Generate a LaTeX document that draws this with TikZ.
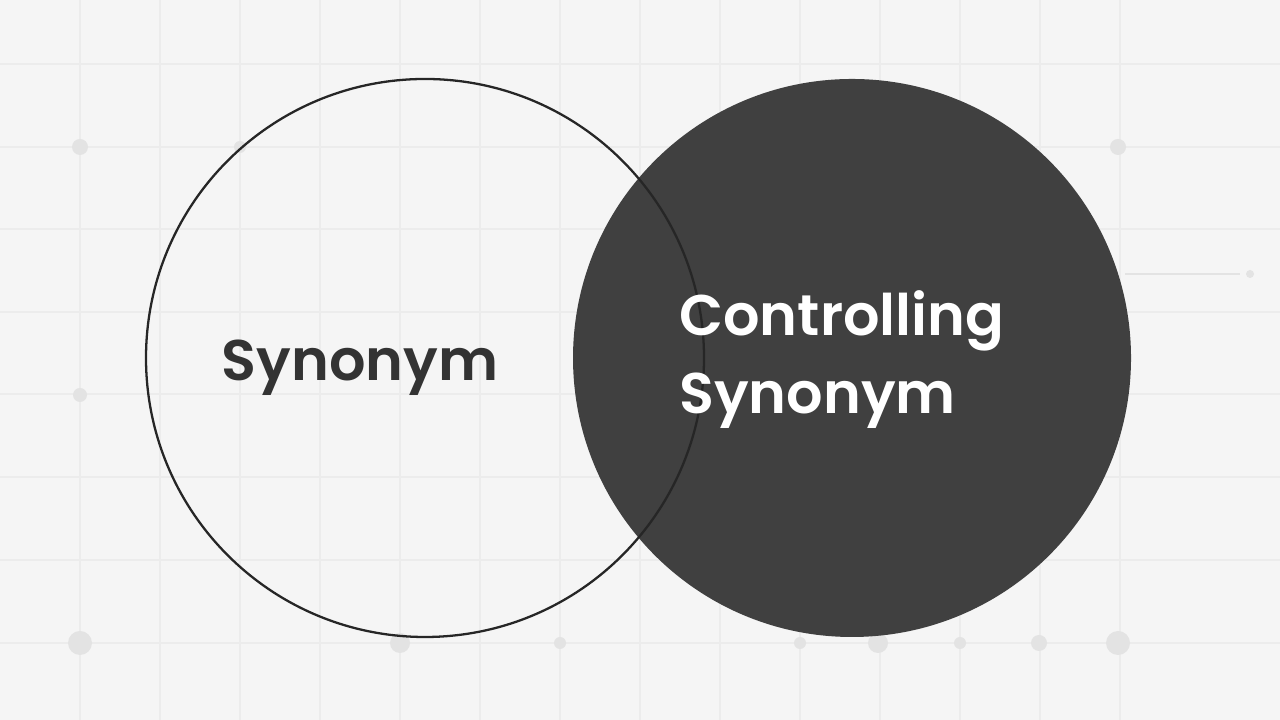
\documentclass[tikz,border=0pt]{standalone}
\usepackage{fontspec}
\setmainfont{Poppins}[BoldFont={Poppins SemiBold}]
\usepackage{xcolor}
\usepackage{tikz}

\definecolor{bgcol}{HTML}{F5F5F5}
\definecolor{gridcol}{HTML}{ECECEC}
\definecolor{dotcol}{HTML}{E3E3E3}
\definecolor{darkcol}{HTML}{404040}
\definecolor{inkcol}{HTML}{333333}

\tikzset{
  label/.style={font=\fontsize{16.3}{22.2}\selectfont\bfseries},
  dot/.style={fill=dotcol, draw=none}
}

\begin{document}
\begin{tikzpicture}[scale=1,every node/.style={transform shape}]
\fill[bgcol] (0,0) rectangle (12.8,7.2);
\useasboundingbox (0,0) rectangle (12.8,7.2);

    % faint grid in the back
    \foreach \x in {0.8,1.6,...,12.0}
        \draw[gridcol, line width=0.35pt] (\x,0) -- (\x,7.2);
    \foreach \y in {0.77,1.6,2.43,3.26,4.08,4.91,5.73,6.56}
        \draw[gridcol, line width=0.35pt] (0,\y) -- (12.8,\y);
    \draw[dotcol, line width=0.5pt] (11.25,4.46) -- (12.4,4.46);

    % grid dots
    \fill[dot] (0.80,5.73) circle (0.08);
    \fill[dot] (2.40,5.73) circle (0.06);
    \fill[dot] (11.18,5.73) circle (0.08);
    \fill[dot] (0.80,3.25) circle (0.07);
    \fill[dot] (12.50,4.46) circle (0.04);
    \fill[dot] (0.80,0.77) circle (0.12);
    \fill[dot] (4.00,0.77) circle (0.10);
    \fill[dot] (5.60,0.77) circle (0.06);
    \fill[dot] (8.00,0.77) circle (0.06);
    \fill[dot] (8.78,0.77) circle (0.10);
    \fill[dot] (9.60,0.77) circle (0.06);
    \fill[dot] (10.39,0.77) circle (0.08);
    \fill[dot] (11.18,0.77) circle (0.12);

    % the two sets
    \fill[darkcol] (8.52,3.62) circle (2.79);
    \draw[black!85, line width=0.65pt] (4.25,3.62) circle (2.79);

    \node[label, text=inkcol] (syn) at (3.60,3.52) {Synonym};
    \node[label, text=white, align=left, anchor=west] (ctrl) at (6.67,3.60)
        {Controlling\\Synonym};

\end{tikzpicture}
\end{document}
